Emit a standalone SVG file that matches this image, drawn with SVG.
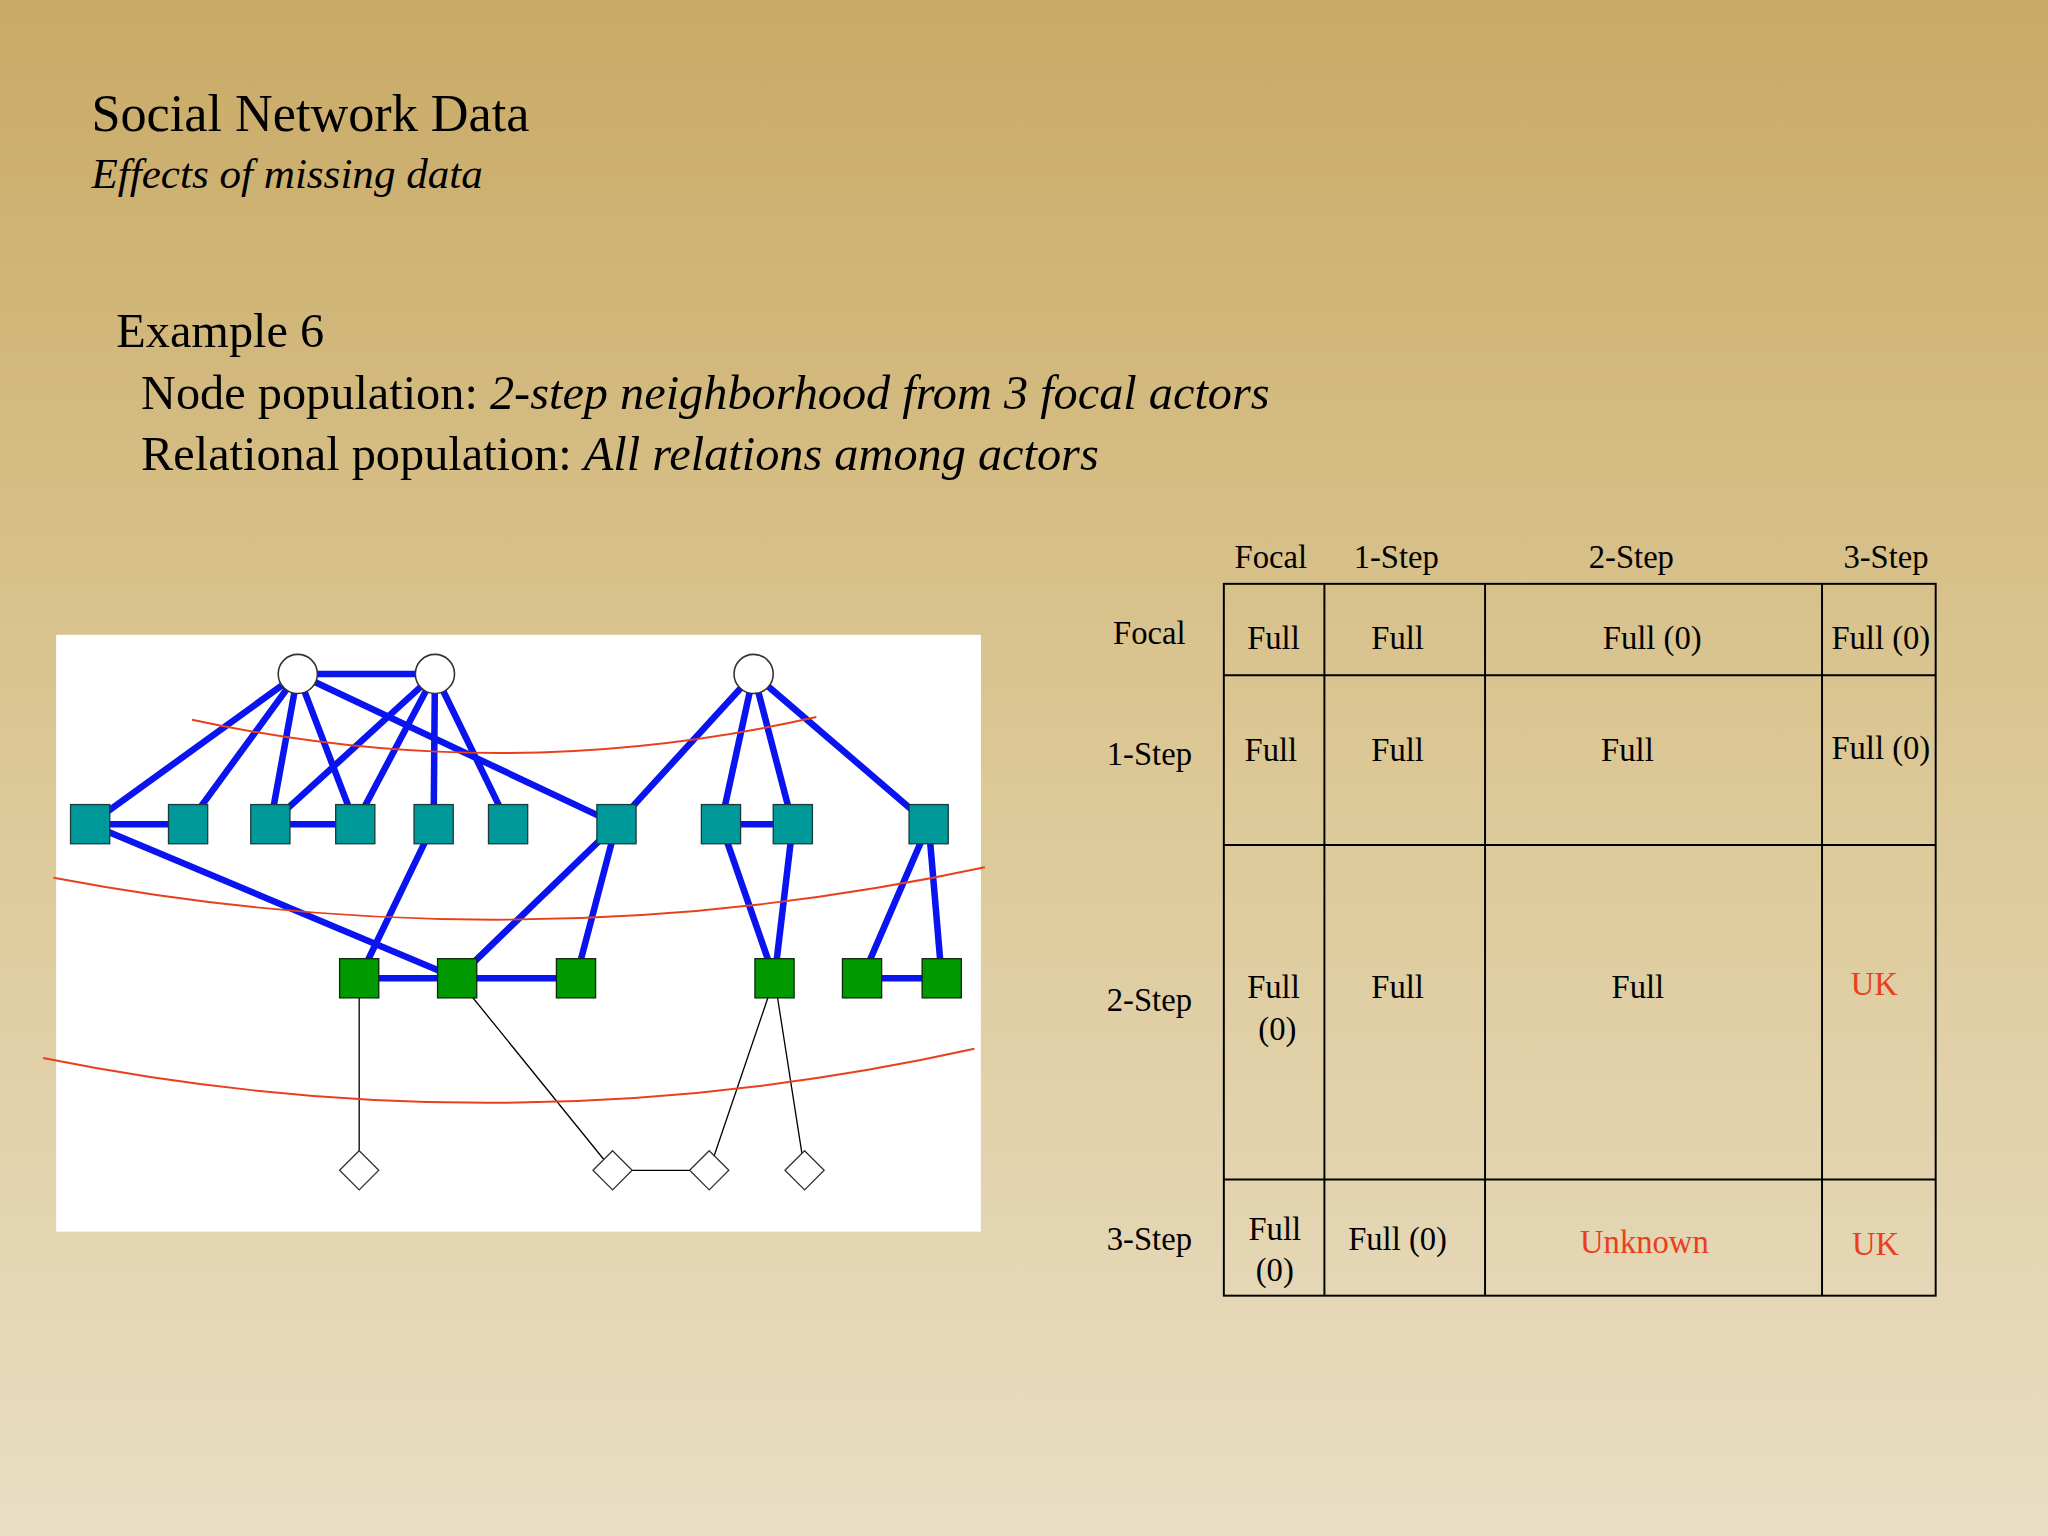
<svg xmlns="http://www.w3.org/2000/svg" width="2048" height="1536" viewBox="0 0 2048 1536">
<defs>
<linearGradient id="bg" x1="0" y1="0" x2="0" y2="1"><stop offset="0" stop-color="#c9aa66"/><stop offset="0.5" stop-color="#dcc896"/><stop offset="1" stop-color="#e9dec4"/></linearGradient>
<style>
.t{font-family:"Liberation Serif",serif;fill:#000}
.tc{font-family:"Liberation Serif",serif;font-size:25px;text-anchor:middle;fill:#000}
.r{fill:#e8401c}
.b{stroke:#0a14f0;stroke-width:5;fill:none}
.k{stroke:#000;stroke-width:1;fill:none}
.rc{stroke:#e8401c;stroke-width:1.5;fill:none}
.tl{fill:#009999;stroke:#1a3a3a;stroke-width:1}
.gr{fill:#009900;stroke:#0a2a0a;stroke-width:1}
.ci{fill:#fff;stroke:#333;stroke-width:1.2}
.di{fill:#fff;stroke:#333;stroke-width:1}
.ln{stroke:#000;stroke-width:1.5}
</style>
</defs>
<rect width="2048" height="1536" fill="url(#bg)"/>
<g transform="scale(1.30612)">
<g id="titles">
<text class="t" x="70" y="100" font-size="40">Social Network Data</text>
<text class="t" x="70" y="144" font-size="33" font-style="italic">Effects of missing data</text>
<text class="t" x="89" y="266" font-size="37">Example 6</text>
<text class="t" x="108" y="313" font-size="37">Node population: <tspan font-style="italic">2-step neighborhood from 3 focal actors</tspan></text>
<text class="t" x="108" y="360" font-size="37">Relational population: <tspan font-style="italic">All relations among actors</tspan></text>
</g>
<rect x="43" y="486" width="708" height="457" fill="#fff"/>
<g id="connectors">
<path class="b" d="M228,516L333,516M228,516L69,631M228,516L144,631M228,516L207,631M228,516L272,631M228,516L472,631M333,516L207,631M333,516L272,631M333,516L332,631M333,516L389,631M577,516L472,631M577,516L552,631M577,516L607,631M577,516L711,631M69,631L144,631M207,631L272,631M552,631L607,631M69,631L350,749M332,631L275,749M472,631L350,749M472,631L441,749M552,631L593,749M607,631L593,749M711,631L660,749M711,631L721,749M275,749L441,749M660,749L721,749"/>
<path class="k" d="M275,749L275,896M350,749L469,896M593,749L543,896M593,749L616,896M469,896L543,896"/>
<path class="rc" d="M147,551Q386,603 625,549M41,672Q400,740 754,664M33,810Q390,882 746,803"/>
</g>
<g id="focal"><circle class="ci" cx="228" cy="516" r="15"/><circle class="ci" cx="333" cy="516" r="15"/><circle class="ci" cx="577" cy="516" r="15"/></g>
<g id="step1">
<rect class="tl" x="54" y="616" width="30" height="30"/><rect class="tl" x="129" y="616" width="30" height="30"/><rect class="tl" x="192" y="616" width="30" height="30"/><rect class="tl" x="257" y="616" width="30" height="30"/><rect class="tl" x="317" y="616" width="30" height="30"/><rect class="tl" x="374" y="616" width="30" height="30"/><rect class="tl" x="457" y="616" width="30" height="30"/><rect class="tl" x="537" y="616" width="30" height="30"/><rect class="tl" x="592" y="616" width="30" height="30"/><rect class="tl" x="696" y="616" width="30" height="30"/>
</g>
<g id="step2">
<rect class="gr" x="260" y="734" width="30" height="30"/><rect class="gr" x="335" y="734" width="30" height="30"/><rect class="gr" x="426" y="734" width="30" height="30"/><rect class="gr" x="578" y="734" width="30" height="30"/><rect class="gr" x="645" y="734" width="30" height="30"/><rect class="gr" x="706" y="734" width="30" height="30"/>
</g>
<g id="step3">
<path class="di" d="M275,881L290,896L275,911L260,896Z"/><path class="di" d="M469,881L484,896L469,911L454,896Z"/><path class="di" d="M543,881L558,896L543,911L528,896Z"/><path class="di" d="M616,881L631,896L616,911L601,896Z"/>
</g>
<g id="table">
<rect x="937" y="447" width="545" height="545" fill="none" class="ln"/>
<path class="ln" d="M1014,447V992M1137,447V992M1395,447V992M937,517H1482M937,647H1482M937,903H1482"/>
<text class="tc" x="973" y="435">Focal</text><text class="tc" x="1069" y="435">1-Step</text><text class="tc" x="1249" y="435">2-Step</text><text class="tc" x="1444" y="435">3-Step</text>
<text class="tc" x="880" y="493">Focal</text><text class="tc" x="880" y="586">1-Step</text><text class="tc" x="880" y="774">2-Step</text><text class="tc" x="880" y="957">3-Step</text>
<text class="tc" x="975" y="497">Full</text><text class="tc" x="1070" y="497">Full</text><text class="tc" x="1265" y="497">Full (0)</text><text class="tc" x="1440" y="497">Full (0)</text>
<text class="tc" x="973" y="583">Full</text><text class="tc" x="1070" y="583">Full</text><text class="tc" x="1246" y="583">Full</text><text class="tc" x="1440" y="581">Full (0)</text>
<text class="tc" x="975" y="764">Full</text><text class="tc" x="978" y="796">(0)</text><text class="tc" x="1070" y="764">Full</text><text class="tc" x="1254" y="764">Full</text><text class="tc r" x="1435" y="762">UK</text>
<text class="tc" x="976" y="949">Full</text><text class="tc" x="976" y="981">(0)</text><text class="tc" x="1070" y="957">Full (0)</text><text class="tc r" x="1259" y="959">Unknown</text><text class="tc r" x="1436" y="961">UK</text>
</g>
</g>
</svg>
